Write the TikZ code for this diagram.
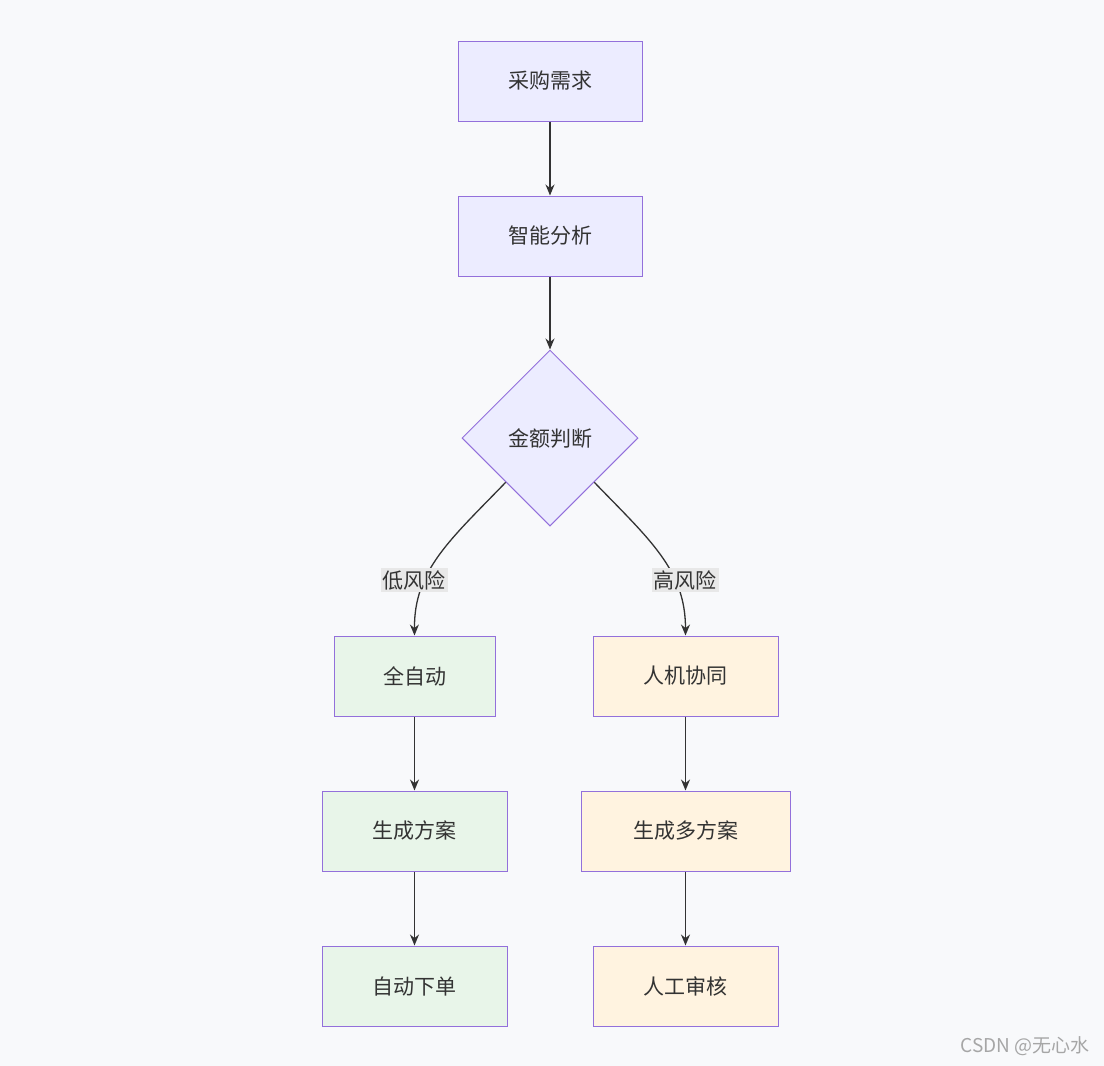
\documentclass[tikz,border=0pt]{standalone}
\usepackage{fontspec}
\newfontfamily\cjk{Noto Sans CJK SC}
\usetikzlibrary{shapes.geometric,arrows.meta}
\definecolor{bg}{HTML}{F8F9FB}
\definecolor{pf}{HTML}{ECECFF}
\definecolor{ps}{HTML}{9370DB}
\definecolor{gf}{HTML}{E8F5E9}
\definecolor{of}{HTML}{FFF3E0}
\definecolor{tx}{HTML}{333333}
\definecolor{lb}{HTML}{E8E8E8}
\tikzset{
 box/.style={draw=ps,line width=1pt,minimum height=80pt,text=tx,font=\cjk\fontsize{21}{24}\selectfont,inner sep=0pt},
 dia/.style={draw=ps,fill=pf,line width=1pt,diamond,minimum width=176pt,minimum height=176pt,text=tx,font=\cjk\fontsize{21}{24}\selectfont,inner sep=0pt},
 lab/.style={fill=lb,text=tx,font=\cjk\fontsize{21}{24}\selectfont,inner sep=2pt},
 arr/.style={draw=tx,line width=1.3pt,-{Stealth[length=11pt,width=9pt]}}
}
\begin{document}
\begin{tikzpicture}[x=1pt,y=-1pt]
\fill[bg] (0,0) rectangle (1104,1066);
\useasboundingbox (0,0) rectangle (1104,1066);
\node[box,fill=pf,minimum width=184pt] (a) at (550,81) {采购需求};
\node[box,fill=pf,minimum width=184pt] (b) at (550,236) {智能分析};
\node[dia] (c) at (550,438) {金额判断};
\node[box,fill=gf,minimum width=161pt] (d) at (414.5,676) {全自动};
\node[box,fill=gf,minimum width=185pt] (e) at (414.5,831) {生成方案};
\node[box,fill=gf,minimum width=185pt] (f) at (414.5,986) {自动下单};
\node[box,fill=of,minimum width=185pt] (g) at (685.5,676) {人机协同};
\node[box,fill=of,minimum width=209pt] (h) at (685.5,831) {生成多方案};
\node[box,fill=of,minimum width=185pt] (i) at (685.5,986) {人工审核};
\draw[arr] (a) -- (b);
\draw[arr] (b) -- (c);
\draw[arr] (c.south west) .. controls (450,540) and (414,570) .. (d.north);
\draw[arr] (c.south east) .. controls (650,540) and (685.5,570) .. (g.north);
\node[lab] (l1) at (414,580) {低风险};
\node[lab] (l2) at (685,580) {高风险};
\draw[arr] (d) -- (e);
\draw[arr] (e) -- (f);
\draw[arr] (g) -- (h);
\draw[arr] (h) -- (i);
\node[text=gray!70,font=\cjk\fontsize{19}{22}\selectfont] (w) at (1025,1046) {CSDN @无心水};
\end{tikzpicture}
\end{document}
